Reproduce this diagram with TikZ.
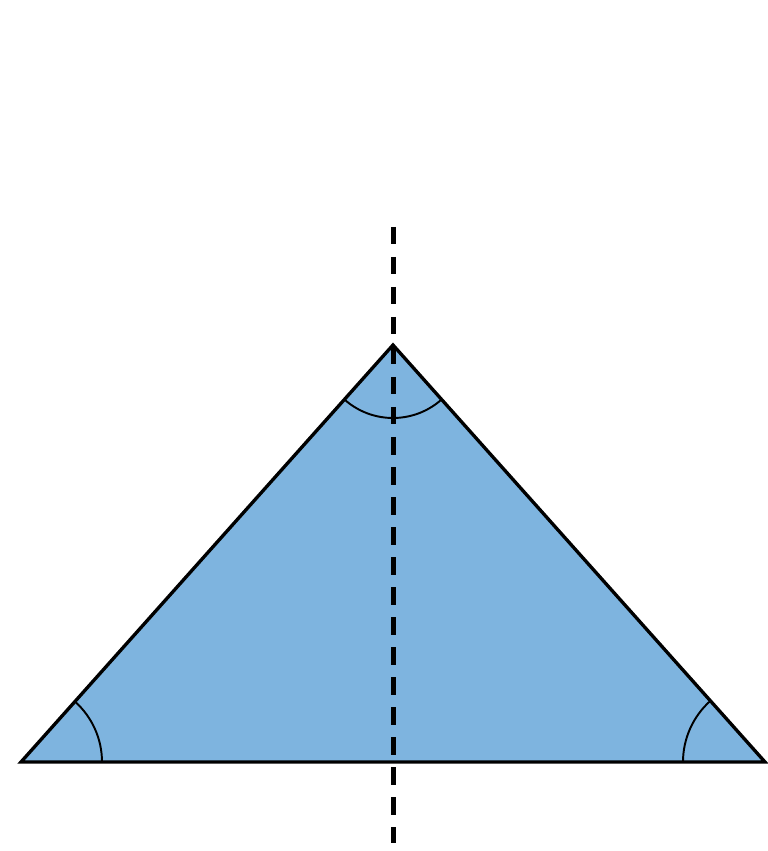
\documentclass[tikz,border=0pt]{standalone}
\usepackage{tikz}
\usetikzlibrary{calc}
\definecolor{triblue}{RGB}{126,180,223}
\def\anglearc[#1](#2)(#3:#4:#5){\draw[#1] ($(#2)+({#5*cos(#3)},{#5*sin(#3)})$) arc (#3:#4:#5);}

\begin{document}
\begin{tikzpicture}
		%%%%% START %%%%%
		\useasboundingbox (0, 0) rectangle (15.36, 17.02);
		
		\coordinate (L) at (0.42, 1.78);
		\coordinate (R) at (15.30, 1.78);
		\coordinate (T) at (7.86, 10.12);
		
		\fill[triblue] (L) -- (R) -- (T) -- cycle;
		
		\anglearc[line width=1.1pt](L)(0:48.27:1.62);
		\anglearc[line width=1.1pt](R)(131.73:180:1.64);
		\anglearc[line width=1.1pt](T)(228.27:311.73:1.46);
		
		\draw[line width=1.9pt, line join=miter] (L) -- (R) -- (T) -- cycle;
		
		\draw[line width=2.5pt, dash pattern=on 0.35cm off 0.25cm] (7.87, 12.48) -- (7.87, 0.16);
		%%%%% END %%%%%
	\end{tikzpicture}
\end{document}
